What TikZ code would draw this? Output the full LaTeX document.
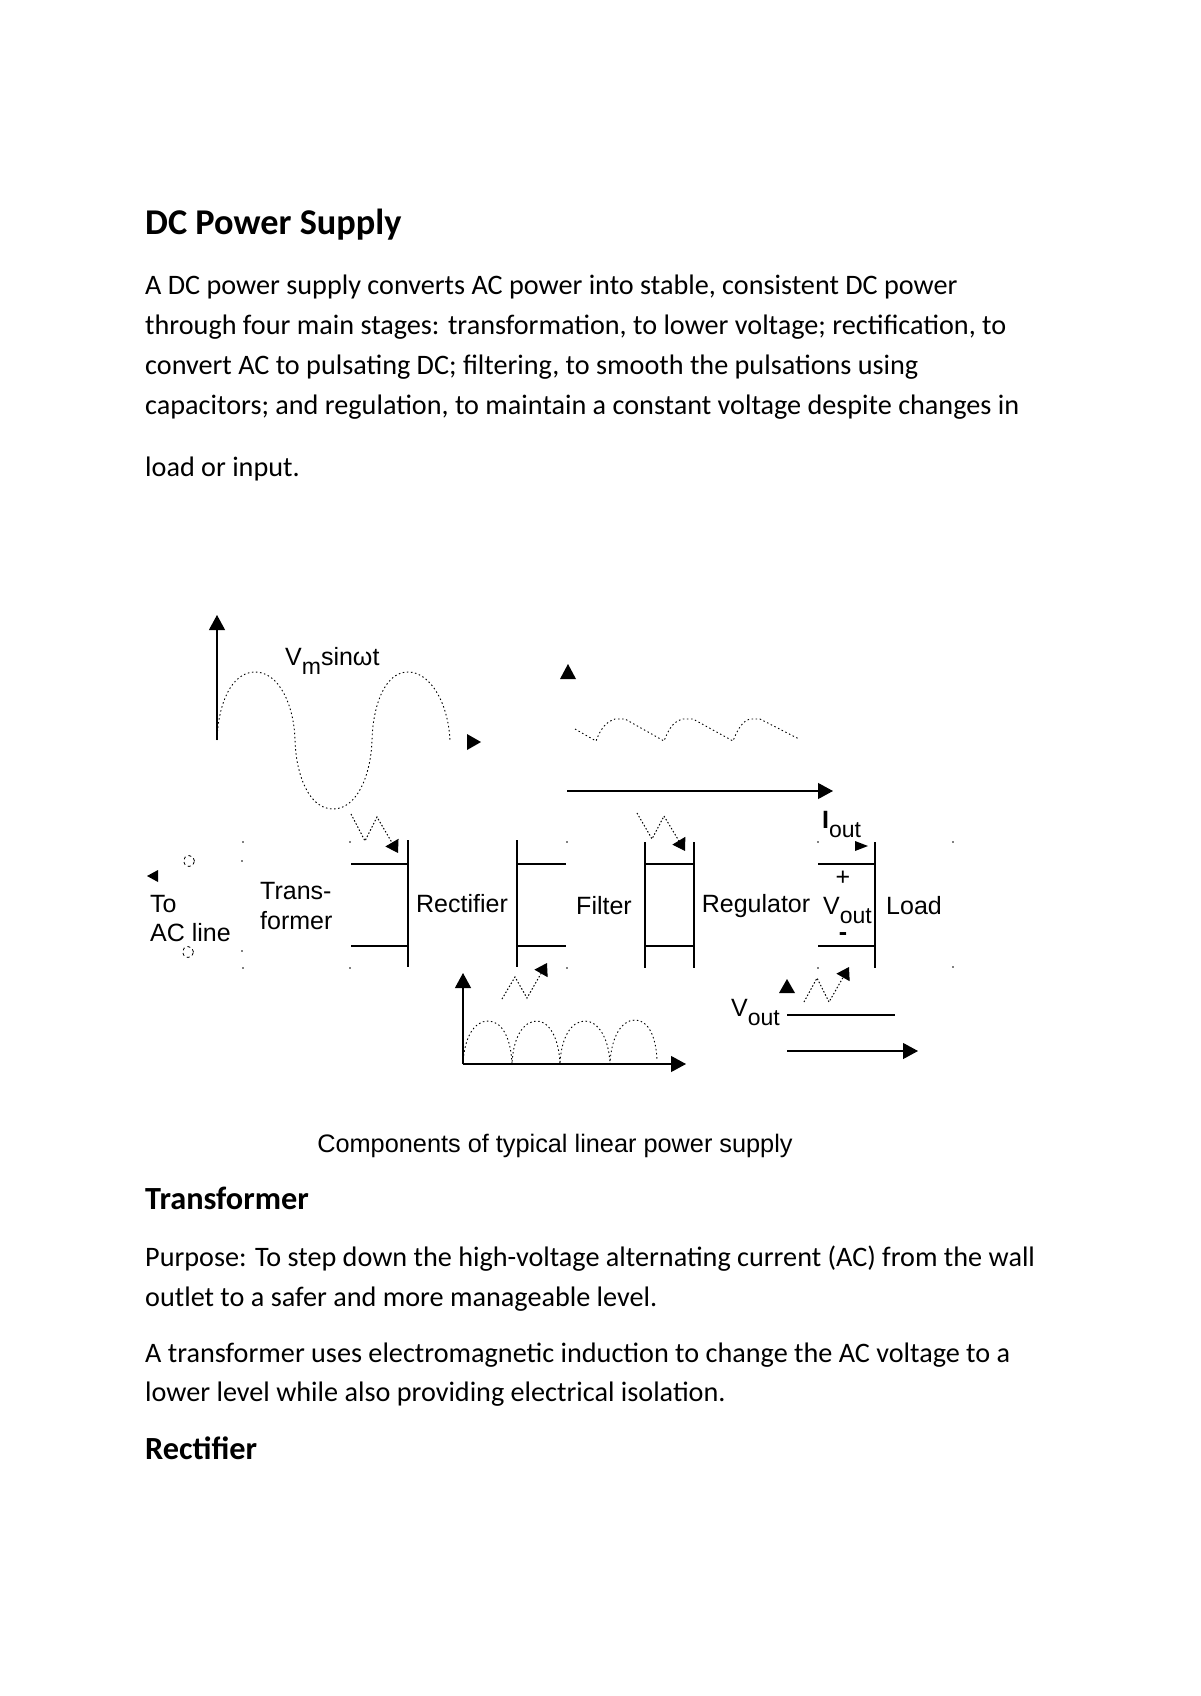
\documentclass[tikz,border=0pt]{standalone}
\usepackage{fontspec}
\usepackage{xcolor}
\setmainfont{Carlito}
\newfontfamily\diagramfont{Liberation Sans}
\usetikzlibrary{arrows.meta, positioning}
\newcommand{\lowtext}[1]{\raisebox{-9pt}{\fontsize{23}{26}\selectfont #1}}

\begin{document}
\begin{tikzpicture}[
			x=1pt, y=-1pt,
			bodytext/.style={inner sep=0pt, text height=20pt, text depth=6pt, font=\fontsize{28.2}{32}\selectfont},
			titletext/.style={inner sep=0pt, text height=24pt, text depth=8pt, anchor=west, font=\fontsize{36.3}{40}\selectfont\bfseries},
			headtext/.style={inner sep=0pt, text height=22pt, text depth=7pt, anchor=west, font=\fontsize{32.3}{36}\selectfont\bfseries},
			blocklabel/.style={inner sep=0pt, align=left, font=\diagramfont\fontsize{25}{30}\selectfont},
			trace/.style={line width=0.9pt, dash pattern=on 1.5pt off 2.6pt},
			blockline/.style={line width=1.1pt},
			arrow/.style={-{Triangle[length=15pt, width=16pt]}, line width=1.1pt},
			flowarrow/.style={-{Triangle[length=12pt, width=15pt]}, line width=1pt, dash pattern=on 1.5pt off 2pt},
			cornerdot/.style={circle, fill, inner sep=0pt, minimum size=1.6pt},
			port/.style={circle, draw, dashed, line width=0.8pt, minimum size=11pt, inner sep=0pt}
		]
		\useasboundingbox (0,0) rectangle (1200,1696);
		
		% Top text
		\node[titletext] (title) at (145,227) {DC Power Supply};
		\node[bodytext, anchor=west] (intro-a) at (145,287) {A DC power supply converts AC power into stable, consistent DC power};
		\node[bodytext, below right=14pt and 0pt of intro-a.south west] (intro-b) {through four main stages: transformation, to lower voltage; rectification, to};
		\node[bodytext, below right=14pt and 0pt of intro-b.south west] (intro-c) {convert AC to pulsating DC; filtering, to smooth the pulsations using};
		\node[bodytext, below right=13pt and 0pt of intro-c.south west] (intro-d) {capacitors; and regulation, to maintain a constant voltage despite changes in};
		\node[bodytext, below right=36pt and 0pt of intro-d.south west] (intro-e) {load or input.};
		
		% Sine wave
		\coordinate (sine-origin) at (217,740);
		\coordinate (sine-top) at (217,615);
		\draw[arrow] (sine-origin) -- (sine-top);
		\draw[trace] (sine-origin) .. controls (218,705) and (231,672) .. (255,672) .. controls (279,672) and (294,705) .. (295,740) .. controls (296,775) and (309,809) .. (333,809) .. controls (357,809) and (371,775) .. (372,740) .. controls (373,705) and (385,672) .. (408,672) .. controls (431,672) and (449,705) .. (450,742);
		\node[blocklabel, anchor=base west] (sine-label) at (285,665) {V\lowtext{m}sinωt};
		\fill (467,734) -- (481,742) -- (467,750) -- cycle;
		\fill (560,679) -- (568,664) -- (576,679) -- cycle;
		
		% Ripple and current
		\draw[trace] (575,729) -- (596,741) .. controls (601,728) and (606,722) .. (615,719) -- (625,719) -- (664,741) .. controls (669,728) and (674,721) .. (683,719) -- (693,719) -- (733,741) .. controls (738,728) and (743,721) .. (750,719) -- (760,719) -- (799,739);
		\coordinate (iout-start) at (567,791);
		\coordinate (iout-end) at (833,791);
		\draw[arrow] (iout-start) -- (iout-end);
		
		% Blocks
		\draw[blockline] (408,840) -- (408,967);
		\draw[blockline] (351,864) -- (408,864);
		\draw[blockline] (351,946) -- (408,946);
		\draw[blockline] (517,840) -- (517,967);
		\draw[blockline] (517,864) -- (566,864);
		\draw[blockline] (517,946) -- (566,946);
		\draw[blockline] (645,842) -- (645,968);
		\draw[blockline] (694,842) -- (694,968);
		\draw[blockline] (645,864) -- (694,864);
		\draw[blockline] (645,946) -- (694,946);
		\draw[blockline] (875,842) -- (875,968);
		\draw[blockline] (818,864) -- (875,864);
		\draw[blockline] (818,946) -- (875,946);
		
		\node[cornerdot] (dot-a) at (243,842) {};
		\node[cornerdot] (dot-b) at (242,861) {};
		\node[cornerdot] (dot-c) at (242,951) {};
		\node[cornerdot] (dot-d) at (243,968) {};
		\node[cornerdot] (dot-e) at (350,842) {};
		\node[cornerdot] (dot-f) at (350,968) {};
		\node[cornerdot] (dot-g) at (567,842) {};
		\node[cornerdot] (dot-h) at (567,968) {};
		\node[cornerdot] (dot-i) at (818,842) {};
		\node[cornerdot] (dot-j) at (818,968) {};
		\node[cornerdot] (dot-k) at (953,842) {};
		\node[cornerdot] (dot-l) at (953,967) {};
		
		\node[port] (port-top) at (189,861) {};
		\node[port] (port-bottom) at (188,952) {};
		\fill (158,870) -- (147,876) -- (158,882) -- cycle;
		\fill (855,841) -- (868,846) -- (855,851) -- cycle;
		
		% Block labels
		\node[blocklabel, anchor=base west] (to-label) at (150,912) {To};
		\node[blocklabel, anchor=base west] (ac-label) at (150,941) {AC line};
		\node[blocklabel, anchor=base west] (trans-label) at (260,899) {Trans-};
		\node[blocklabel, anchor=base west] (former-label) at (260,929) {former};
		\node[blocklabel, anchor=base] (rect-label) at (462,912) {Rectifier};
		\node[blocklabel, anchor=base] (filter-label) at (604,914) {Filter};
		\node[blocklabel, anchor=base] (reg-label) at (756,912) {Regulator};
		\node[blocklabel, anchor=base west] (vout-label) at (823,914) {V\lowtext{out}};
		\node[blocklabel, anchor=base] (load-label) at (914,914) {Load};
		\node[blocklabel] (plus-label) at (843,878) {+};
		\node[blocklabel] (minus-label) at (843,937) {\textbf{-}};
		\node[blocklabel, anchor=base west] (iout-label) at (822,828) {\textbf{I}\lowtext{out}};
		
		% Flow arrows between stages
		\coordinate (flow-a0) at (351,814);
		\coordinate (flow-a1) at (365,841);
		\coordinate (flow-a2) at (377,817);
		\coordinate (flow-a3) at (398,853);
		\draw[flowarrow] (flow-a0) -- (flow-a1) -- (flow-a2) -- (flow-a3);
		\coordinate (flow-b0) at (637,813);
		\coordinate (flow-b1) at (652,839);
		\coordinate (flow-b2) at (664,816);
		\coordinate (flow-b3) at (685,851);
		\draw[flowarrow] (flow-b0) -- (flow-b1) -- (flow-b2) -- (flow-b3);
		\coordinate (flow-c0) at (502,999);
		\coordinate (flow-c1) at (515,977);
		\coordinate (flow-c2) at (527,998);
		\coordinate (flow-c3) at (547,963);
		\draw[flowarrow] (flow-c0) -- (flow-c1) -- (flow-c2) -- (flow-c3);
		\coordinate (flow-d0) at (804,1002);
		\coordinate (flow-d1) at (817,978);
		\coordinate (flow-d2) at (829,1002);
		\coordinate (flow-d3) at (849,967);
		\draw[flowarrow] (flow-d0) -- (flow-d1) -- (flow-d2) -- (flow-d3);
		
		% Rectified wave
		\coordinate (rect-origin) at (463,1064);
		\coordinate (rect-top) at (463,973);
		\coordinate (rect-right) at (686,1064);
		\draw[arrow] (rect-origin) -- (rect-top);
		\draw[arrow] (rect-origin) -- (rect-right);
		\draw[trace] (rect-origin) .. controls (464,1038) and (474,1021) .. (488,1021) .. controls (502,1021) and (511,1038) .. (512,1064) .. controls (513,1038) and (523,1021) .. (537,1021) .. controls (549,1021) and (559,1038) .. (560,1064) .. controls (561,1038) and (571,1021) .. (585,1021) .. controls (598,1021) and (609,1038) .. (610,1064) .. controls (611,1038) and (621,1020) .. (635,1020) .. controls (648,1020) and (656,1036) .. (657,1060);
		
		% Output level
		\fill (779,993) -- (787,979) -- (795,993) -- cycle;
		\node[blocklabel, anchor=base west] (vout-plot-label) at (731,1016) {V\lowtext{out}};
		\coordinate (level-start) at (787,1015);
		\coordinate (level-end) at (895,1015);
		\draw[blockline] (level-start) -- (level-end);
		\coordinate (vaxis-start) at (787,1051);
		\coordinate (vaxis-end) at (918,1051);
		\draw[arrow] (vaxis-start) -- (vaxis-end);
		
		% Caption and lower text
		\node[blocklabel, anchor=base, font=\diagramfont\fontsize{25.3}{30}\selectfont] (caption) at (555,1152) {Components of typical linear power supply};
		\node[headtext] (head-transformer) at (145,1202) {Transformer};
		\node[bodytext, anchor=west] (purpose-a) at (145,1259) {Purpose: To step down the high-voltage alternating current (AC) from the wall};
		\node[bodytext, below right=14pt and 0pt of purpose-a.south west] (purpose-b) {outlet to a safer and more manageable level.};
		\node[bodytext, anchor=west] (induction-a) at (145,1355) {A transformer uses electromagnetic induction to change the AC voltage to a};
		\node[bodytext, below right=13pt and 0pt of induction-a.south west] (induction-b) {lower level while also providing electrical isolation.};
		\node[headtext] (head-rectifier) at (145,1452) {Rectifier};
		\end{tikzpicture}
\end{document}
